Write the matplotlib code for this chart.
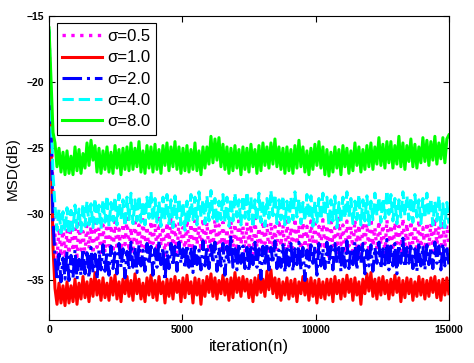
import numpy as np
import matplotlib
matplotlib.use('Agg')
import matplotlib.pyplot as plt

plt.rcParams['font.family'] = ['Liberation Sans', 'DejaVu Sans']

# iteration index, one sample every 75 iterations
iters = np.arange(0, 15001, 75)

sigma_labels = ['σ=0.5', 'σ=1.0', 'σ=2.0', 'σ=4.0', 'σ=8.0']

# MSD curves (dB)
msd_s05 = [
    -16.1, -22.5, -28.8, -31.6, -33.4, -31.0, -33.2, -30.9, -33.3, -31.2,
    -33.0, -30.6, -32.8, -31.1, -33.2, -30.7, -32.7, -31.3, -33.1, -30.5,
    -32.6, -30.9, -33.0, -30.6, -32.5, -31.0, -33.2, -30.8, -32.9, -30.4,
    -32.4, -30.8, -32.9, -30.5, -32.7, -31.1, -33.1, -30.7, -32.3, -30.3,
    -32.8, -31.0, -33.0, -30.6, -32.4, -30.8, -32.9, -30.4, -32.5, -30.9,
    -33.0, -30.5, -32.2, -30.7, -32.8, -30.3, -32.4, -30.9, -33.1, -30.6,
    -32.3, -30.2, -32.7, -30.8, -33.0, -30.6, -32.2, -31.0, -32.9, -30.4,
    -32.5, -30.7, -33.1, -30.5, -32.3, -30.9, -32.8, -30.3, -32.4, -30.6,
    -32.9, -31.0, -32.6, -30.4, -32.2, -30.8, -33.0, -30.6, -32.7, -31.1,
    -33.2, -30.5, -32.5, -30.7, -32.8, -30.2, -32.3, -30.9, -32.9, -30.6,
    -32.4, -30.8, -33.1, -30.3, -32.5, -31.0, -32.7, -30.5, -32.2, -30.7,
    -33.0, -30.6, -32.3, -30.9, -32.8, -30.4, -32.4, -30.8, -33.1, -30.5,
    -32.6, -31.0, -32.9, -30.3, -32.3, -30.8, -33.0, -30.6, -32.5, -30.9,
    -32.8, -30.5, -32.2, -30.7, -33.1, -30.9, -32.4, -30.4, -32.7, -30.8,
    -33.2, -30.6, -32.5, -31.0, -32.9, -30.3, -32.3, -30.8, -33.0, -30.5,
    -32.4, -30.9, -32.8, -30.4, -32.5, -30.8, -33.1, -30.6, -32.2, -30.7,
    -32.9, -30.3, -32.4, -31.0, -32.7, -30.5, -32.3, -30.8, -33.0, -30.4,
    -32.5, -30.8, -33.1, -30.6, -32.2, -30.9, -32.8, -30.3, -32.4, -30.7,
    -33.0, -30.5, -32.3, -30.8, -32.9, -30.4, -32.5, -31.0, -32.7, -30.6,
    -32.4, -30.7, -32.8, -30.3, -32.3, -30.9, -33.0, -30.5, -32.5, -30.8,
    -32.6,
]

msd_s1 = [
    -16.3, -24.5, -32.5, -35.6, -36.8, -35.2, -36.7, -35.4, -36.9, -35.1,
    -36.7, -35.4, -36.6, -34.9, -36.8, -35.2, -36.4, -34.7, -36.3, -35.1,
    -36.6, -34.9, -36.2, -34.4, -36.1, -35.0, -36.5, -34.8, -36.3, -35.2,
    -36.5, -34.8, -36.1, -34.6, -36.4, -35.1, -36.6, -34.9, -36.0, -34.7,
    -36.2, -35.0, -36.5, -34.5, -36.0, -34.9, -36.4, -35.2, -36.6, -34.8,
    -36.1, -34.6, -36.3, -35.0, -36.5, -34.7, -36.0, -35.1, -36.7, -34.9,
    -36.2, -34.9, -36.4, -34.7, -35.9, -35.0, -36.6, -34.8, -36.3, -34.6,
    -36.0, -35.1, -36.7, -34.8, -36.1, -34.9, -36.8, -35.0, -36.2, -34.7,
    -35.9, -34.5, -36.2, -34.8, -36.4, -35.0, -36.0, -34.6, -36.1, -34.9,
    -36.5, -34.8, -36.3, -34.4, -35.9, -34.8, -36.2, -34.7, -35.8, -34.9,
    -36.3, -35.0, -36.6, -34.8, -36.1, -34.6, -35.9, -34.9, -36.2, -34.3,
    -35.7, -34.2, -36.0, -34.8, -36.3, -34.9, -36.5, -35.1, -36.1, -34.8,
    -36.4, -35.0, -36.2, -34.9, -36.6, -35.1, -36.0, -34.7, -36.1, -34.9,
    -36.5, -34.8, -36.2, -35.0, -36.7, -34.9, -36.3, -35.1, -36.4, -34.9,
    -36.1, -34.9, -36.6, -34.7, -36.0, -35.0, -36.4, -34.9, -36.2, -34.6,
    -35.9, -34.9, -36.5, -34.8, -36.1, -35.1, -36.8, -34.9, -36.0, -34.5,
    -35.8, -34.4, -36.2, -34.9, -36.4, -34.8, -36.1, -34.7, -36.0, -35.0,
    -36.4, -34.9, -36.1, -34.6, -35.9, -34.8, -36.6, -35.0, -36.3, -34.8,
    -36.0, -34.9, -36.5, -35.1, -36.2, -34.7, -36.1, -34.9, -36.4, -35.0,
    -36.2, -34.8, -35.9, -34.7, -36.3, -35.0, -36.5, -34.9, -36.1, -34.8,
    -36.0,
]

msd_s2 = [
    -16.2, -23.5, -30.5, -33.2, -35.0, -33.0, -35.1, -33.3, -34.9, -32.8,
    -35.0, -33.1, -34.8, -32.7, -34.9, -33.4, -34.6, -32.6, -34.5, -32.9,
    -34.8, -32.5, -34.4, -33.0, -34.9, -32.7, -34.2, -32.3, -34.3, -32.8,
    -34.6, -32.4, -34.1, -32.9, -34.5, -32.2, -34.0, -32.6, -34.8, -32.8,
    -34.2, -32.1, -34.0, -32.5, -34.4, -32.3, -33.9, -32.7, -34.3, -32.2,
    -33.8, -32.4, -34.6, -32.6, -34.0, -32.0, -33.8, -32.5, -35.0, -32.7,
    -34.1, -32.2, -33.9, -32.4, -34.3, -32.1, -33.7, -32.6, -34.1, -32.3,
    -34.0, -32.5, -34.4, -32.2, -33.8, -32.7, -34.2, -32.0, -33.9, -32.4,
    -34.1, -32.3, -33.7, -32.1, -34.3, -32.5, -33.9, -32.2, -34.6, -32.4,
    -33.8, -31.6, -34.0, -32.6, -34.2, -32.2, -33.7, -32.4, -34.1, -32.5,
    -34.3, -32.3, -33.8, -32.1, -34.0, -32.6, -34.9, -32.4, -33.9, -32.2,
    -34.2, -32.5, -33.7, -32.0, -34.1, -32.7, -34.0, -32.3, -34.4, -32.4,
    -33.9, -32.2, -34.3, -32.6, -33.8, -32.1, -34.2, -32.5, -35.0, -32.7,
    -34.0, -32.3, -33.7, -32.4, -34.6, -32.2, -33.9, -32.6, -34.1, -32.1,
    -33.8, -32.4, -34.2, -32.2, -33.7, -32.5, -34.3, -32.3, -34.0, -32.0,
    -34.1, -32.6, -33.8, -32.1, -34.2, -32.4, -33.7, -32.2, -34.5, -32.7,
    -33.9, -32.3, -34.3, -32.5, -33.7, -32.1, -34.1, -32.6, -33.8, -31.9,
    -34.2, -32.4, -33.9, -32.2, -34.5, -32.3, -33.7, -31.8, -34.0, -32.5,
    -33.7, -32.2, -34.1, -32.6, -34.3, -32.1, -33.9, -32.4, -34.2, -32.3,
    -33.8, -32.5, -34.1, -32.1, -33.7, -32.4, -34.2, -32.2, -33.9, -32.6,
    -33.8,
]

msd_s4 = [
    -16.0, -21.5, -27.0, -29.4, -31.2, -29.6, -31.4, -29.8, -31.3, -29.5,
    -31.5, -29.7, -31.2, -29.3, -31.0, -29.6, -31.3, -29.2, -30.9, -29.0,
    -30.8, -29.2, -31.0, -28.8, -30.7, -29.3, -31.1, -28.9, -30.6, -28.6,
    -30.9, -29.1, -30.5, -28.7, -30.8, -28.5, -30.4, -28.9, -30.9, -28.7,
    -30.4, -28.4, -30.7, -28.9, -30.5, -28.6, -30.6, -29.0, -30.8, -28.7,
    -30.3, -28.3, -30.5, -28.8, -30.6, -29.0, -30.9, -28.7, -30.4, -28.5,
    -30.7, -28.9, -31.0, -28.6, -30.3, -28.8, -30.8, -29.1, -31.2, -29.0,
    -30.6, -28.5, -30.4, -28.7, -30.8, -28.3, -30.2, -28.9, -30.7, -28.6,
    -30.5, -28.2, -30.3, -28.8, -30.7, -29.0, -30.4, -28.5, -30.6, -28.7,
    -30.9, -28.8, -30.5, -28.4, -30.2, -28.9, -30.8, -28.6, -30.3, -28.3,
    -30.4, -28.7, -31.0, -28.9, -30.5, -28.4, -30.6, -29.0, -30.9, -28.8,
    -30.3, -28.2, -30.1, -28.5, -30.7, -28.9, -30.4, -28.6, -30.8, -29.0,
    -30.6, -28.7, -30.4, -28.3, -30.2, -28.8, -30.7, -29.1, -30.5, -28.5,
    -30.3, -28.6, -30.9, -29.0, -30.6, -28.8, -30.4, -28.4, -30.1, -28.7,
    -30.8, -28.9, -30.5, -28.6, -31.0, -29.1, -30.6, -28.7, -30.3, -28.3,
    -30.2, -28.8, -30.7, -29.0, -30.4, -28.5, -30.8, -28.9, -30.5, -28.6,
    -30.9, -29.0, -30.4, -28.4, -30.1, -28.7, -30.6, -28.8, -30.3, -28.2,
    -30.0, -28.5, -30.5, -28.8, -30.7, -28.9, -30.2, -28.3, -30.1, -28.6,
    -30.4, -28.7, -30.6, -28.5, -30.2, -28.9, -30.7, -28.8, -30.3, -28.4,
    -30.1, -28.8, -30.8, -29.0, -30.5, -28.6, -30.9, -29.2, -31.0, -29.1,
    -30.7,
]

msd_s8 = [
    -15.9, -19.8, -23.8, -24.6, -26.4, -25.0, -26.8, -25.3, -27.0, -25.2,
    -26.9, -25.6, -27.0, -24.9, -26.7, -25.1, -26.9, -25.4, -26.5, -24.6,
    -26.3, -24.4, -25.9, -24.8, -26.8, -25.0, -26.9, -25.2, -26.6, -24.9,
    -26.8, -25.3, -26.9, -24.8, -26.5, -25.1, -27.0, -25.0, -26.6, -24.9,
    -26.7, -24.6, -26.6, -25.0, -26.4, -24.5, -26.8, -25.2, -26.9, -24.8,
    -26.5, -24.9, -26.8, -24.7, -26.6, -25.1, -26.9, -24.8, -26.3, -24.6,
    -26.7, -24.9, -26.4, -24.5, -26.6, -24.9, -26.9, -25.0, -26.7, -24.8,
    -26.8, -25.1, -26.6, -24.6, -26.7, -25.2, -27.0, -24.9, -26.5, -24.9,
    -26.2, -24.1, -26.1, -24.3, -25.9, -24.2, -26.4, -24.7, -26.6, -24.9,
    -26.9, -25.0, -26.7, -24.8, -26.5, -25.1, -27.0, -24.9, -26.6, -25.0,
    -26.8, -24.7, -26.4, -25.1, -26.9, -24.8, -26.7, -24.6, -26.3, -24.9,
    -26.5, -24.6, -26.2, -24.3, -26.4, -24.9, -26.6, -25.0, -26.9, -24.9,
    -26.7, -25.1, -26.9, -24.8, -26.5, -24.4, -26.4, -24.9, -26.8, -25.2,
    -27.0, -25.0, -26.6, -24.7, -26.3, -24.5, -26.5, -24.9, -27.0, -25.1,
    -27.1, -25.3, -26.8, -24.9, -26.5, -25.1, -27.0, -24.8, -26.4, -25.0,
    -26.9, -25.2, -26.7, -24.6, -26.3, -24.9, -26.8, -25.1, -26.6, -24.8,
    -26.4, -24.6, -26.6, -24.9, -26.2, -24.2, -26.3, -24.7, -26.5, -24.5,
    -26.1, -24.5, -26.5, -24.8, -26.2, -24.1, -26.4, -24.6, -26.6, -24.8,
    -26.0, -24.3, -26.4, -24.7, -26.5, -24.9, -26.1, -24.2, -26.0, -24.4,
    -26.3, -24.5, -25.9, -24.1, -26.2, -24.6, -25.8, -24.2, -26.1, -24.3,
    -24.0,
]

fig = plt.figure(figsize=(4.74, 3.63), dpi=100)
ax = fig.add_axes([0.1034, 0.118, 0.8436, 0.838])

ax.plot(iters, msd_s05, color='#ff00ff', linestyle=':', linewidth=2.4, label=sigma_labels[0])
ax.plot(iters, msd_s1, color='#ff0000', linestyle='-', linewidth=2.2, label=sigma_labels[1])
ax.plot(iters, msd_s2, color='#0000ff', linestyle='-.', linewidth=2.2, label=sigma_labels[2])
ax.plot(iters, msd_s4, color='#00ffff', linestyle='--', linewidth=2.2, label=sigma_labels[3])
ax.plot(iters, msd_s8, color='#00ff00', linestyle='-', linewidth=2.2, label=sigma_labels[4])

ax.set_xlim(0, 15000)
ax.set_ylim(-38, -15)
ax.set_xticks([0, 5000, 10000, 15000])
ax.set_yticks([-35, -30, -25, -20, -15])
ax.tick_params(direction='in', top=True, right=True, labelsize=7.5, length=4, width=0.8)
for lab in ax.get_xticklabels() + ax.get_yticklabels():
    lab.set_fontweight('bold')
for sp in ax.spines.values():
    sp.set_linewidth(0.8)

ax.set_xlabel('iteration(n)', fontsize=12, labelpad=3)
ax.set_ylabel('MSD(dB)', fontsize=11, labelpad=5)

leg = ax.legend(loc='upper left', fontsize=12, handlelength=2.4, handletextpad=0.3,
                labelspacing=0.37, borderaxespad=0.45, borderpad=0.35, fancybox=False)
leg.get_frame().set_edgecolor('black')
leg.get_frame().set_linewidth(0.8)
leg.get_frame().set_alpha(1)

fig.savefig('out.png', dpi=100)
